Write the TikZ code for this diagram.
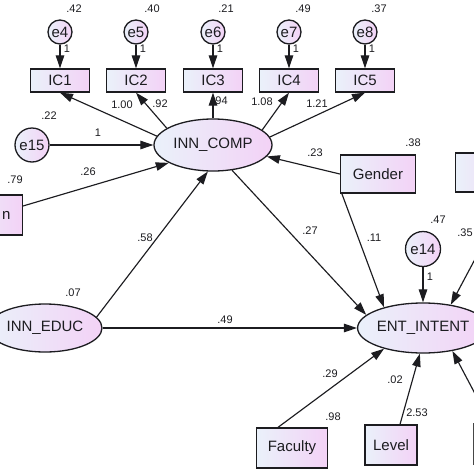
\documentclass[tikz,border=0pt]{standalone}
\usepackage{fontspec}
\setmainfont{Liberation Sans}
\usetikzlibrary{arrows.meta, shapes.geometric}
\definecolor{paleblue}{RGB}{234,241,250}
\definecolor{palepink}{RGB}{243,210,246}
\definecolor{inkgray}{RGB}{28,28,32}

\begin{document}
\begin{tikzpicture}[x=1pt, y=-1pt,
  obs/.style={draw=inkgray, line width=1.3pt, left color=paleblue, right color=palepink,
    text=inkgray, font=\fontsize{15}{15}\selectfont, inner sep=0pt},
  latent/.style={obs, ellipse},
  err/.style={obs, circle, minimum size=24pt},
  reg/.style={-{Triangle[length=13pt, width=8.5pt]}, line width=1.15pt, draw=inkgray},
  est/.style={font=\fontsize{11}{11}\selectfont, text=inkgray, inner sep=0pt}]
  \useasboundingbox (0,0) rectangle (474,474);
  \clip (0,0) rectangle (474,474);
  % latent variables
  \node[latent, minimum width=118pt, minimum height=52pt] (comp) at (213,145) {INN\_COMP};
  \node[latent, minimum width=120pt, minimum height=50pt] (ent) at (423,328) {ENT\_INTENT};
  \node[latent, minimum width=114pt, minimum height=48pt] (educ) at (45,328) {INN\_EDUC};
  % indicators of INN_COMP
  \node[err] (e4) at (60,32) {e4};
  \node[err] (e5) at (136,32) {e5};
  \node[err] (e6) at (213,32) {e6};
  \node[err] (e7) at (289,32) {e7};
  \node[err] (e8) at (365,32) {e8};
  \node[obs, minimum width=59pt, minimum height=23pt] (ic1) at (60,80.5) {IC1};
  \node[obs, minimum width=59pt, minimum height=23pt] (ic2) at (136,80.5) {IC2};
  \node[obs, minimum width=59pt, minimum height=23pt] (ic3) at (213,80.5) {IC3};
  \node[obs, minimum width=59pt, minimum height=23pt] (ic4) at (289,80.5) {IC4};
  \node[obs, minimum width=59pt, minimum height=23pt] (ic5) at (365,80.5) {IC5};
  % other observed variables
  \node[err, minimum size=34pt] (e15) at (32,145) {e15};
  \node[err, minimum size=35pt] (e14) at (423,249) {e14};
  \node[obs, minimum height=40pt, text width=40pt, align=right, inner xsep=12pt,
    anchor=east] (lbox) at (23,215) {n};
  \node[obs, minimum width=75pt, minimum height=38pt] (gender) at (378,174) {Gender};
  \node[obs, minimum width=60pt, minimum height=39pt, anchor=west] (rtop) at (455,172.5) {};
  \node[obs, minimum width=71pt, minimum height=40pt] (fac) at (292,448) {Faculty};
  \node[obs, minimum width=52pt, minimum height=40pt] (lev) at (391,445) {Level};
  \node[obs, draw=gray!55!black, line width=2.5pt, minimum width=40pt, minimum height=40pt,
    anchor=west] (rbot) at (473,444) {};
  \coordinate (offtop) at (490,231);
  \coordinate (offbot) at (490,422);
  % paths
  \draw[reg] (e4) -- (ic1);
  \draw[reg] (e5) -- (ic2);
  \draw[reg] (e6) -- (ic3);
  \draw[reg] (e7) -- (ic4);
  \draw[reg] (e8) -- (ic5);
  \draw[reg] (comp.171) -- (ic1.south);
  \draw[reg] (comp.160) -- (ic2.south);
  \draw[reg] (comp.north) -- (ic3.south);
  \draw[reg] (comp.17) -- (ic4.south);
  \draw[reg] (comp.8) -- (ic5.south);
  \draw[reg] (e15) -- (comp);
  \draw[reg] ([yshift=9pt]lbox.east) -- (comp.202);
  \draw[reg] (educ.12) -- (comp.259);
  \draw[reg] (gender.west) -- (comp.348);
  \draw[reg] (comp.307) -- (ent.167);
  \draw[reg] ([xshift=2pt]gender.south west) -- (ent.152);
  \draw[reg] (e14) -- (ent);
  \draw[reg] (offtop) -- (ent.40);
  \draw[reg] (educ.east) -- (ent.west);
  \draw[reg] ([xshift=-14pt]fac.north) -- (ent.208);
  \draw[reg] ([xshift=9pt]lev.north) -- (ent.263);
  \draw[reg] (offbot) -- (ent.322);
  % estimates
  \node[est] (v4) at (74,9) {.42};
  \node[est] (v5) at (152,9) {.40};
  \node[est] (v6) at (226,9) {.21};
  \node[est] (v7) at (303,9) {.49};
  \node[est] (v8) at (379,9) {.37};
  \node[est] (f4) at (67,49) {1};
  \node[est] (f5) at (143,49) {1};
  \node[est] (f6) at (220,49) {1};
  \node[est] (f7) at (296,49) {1};
  \node[est] (f8) at (372,49) {1};
  \node[est] (l1) at (122,105) {1.00};
  \node[est] (l2) at (160,104) {.92};
  \node[est] (l3) at (220,101) {.94};
  \node[est] (l4) at (262,102) {1.08};
  \node[est] (l5) at (317,104) {1.21};
  \node[est] (vcomp) at (49,116) {.22};
  \node[est] (f15) at (98,133) {1};
  \node[est] (vl) at (15,180) {.79};
  \node[est] (wl) at (88,172) {.26};
  \node[est] (wed) at (145,238) {.58};
  \node[est] (ved) at (73,293) {.07};
  \node[est] (wed2) at (225,320) {.49};
  \node[est] (wg) at (315,153) {.23};
  \node[est] (vg) at (413,143) {.38};
  \node[est] (wcomp) at (310,231) {.27};
  \node[est] (wg2) at (374,238) {.11};
  \node[est] (vent) at (438,220) {.47};
  \node[est] (f14) at (430,277) {1};
  \node[est] (vr) at (465,233) {.35};
  \node[est] (wf) at (330,374) {.29};
  \node[est] (vf) at (333,417) {.98};
  \node[est] (wlev) at (395,380) {.02};
  \node[est] (vlev) at (417,413) {2.53};
\end{tikzpicture}
\end{document}
